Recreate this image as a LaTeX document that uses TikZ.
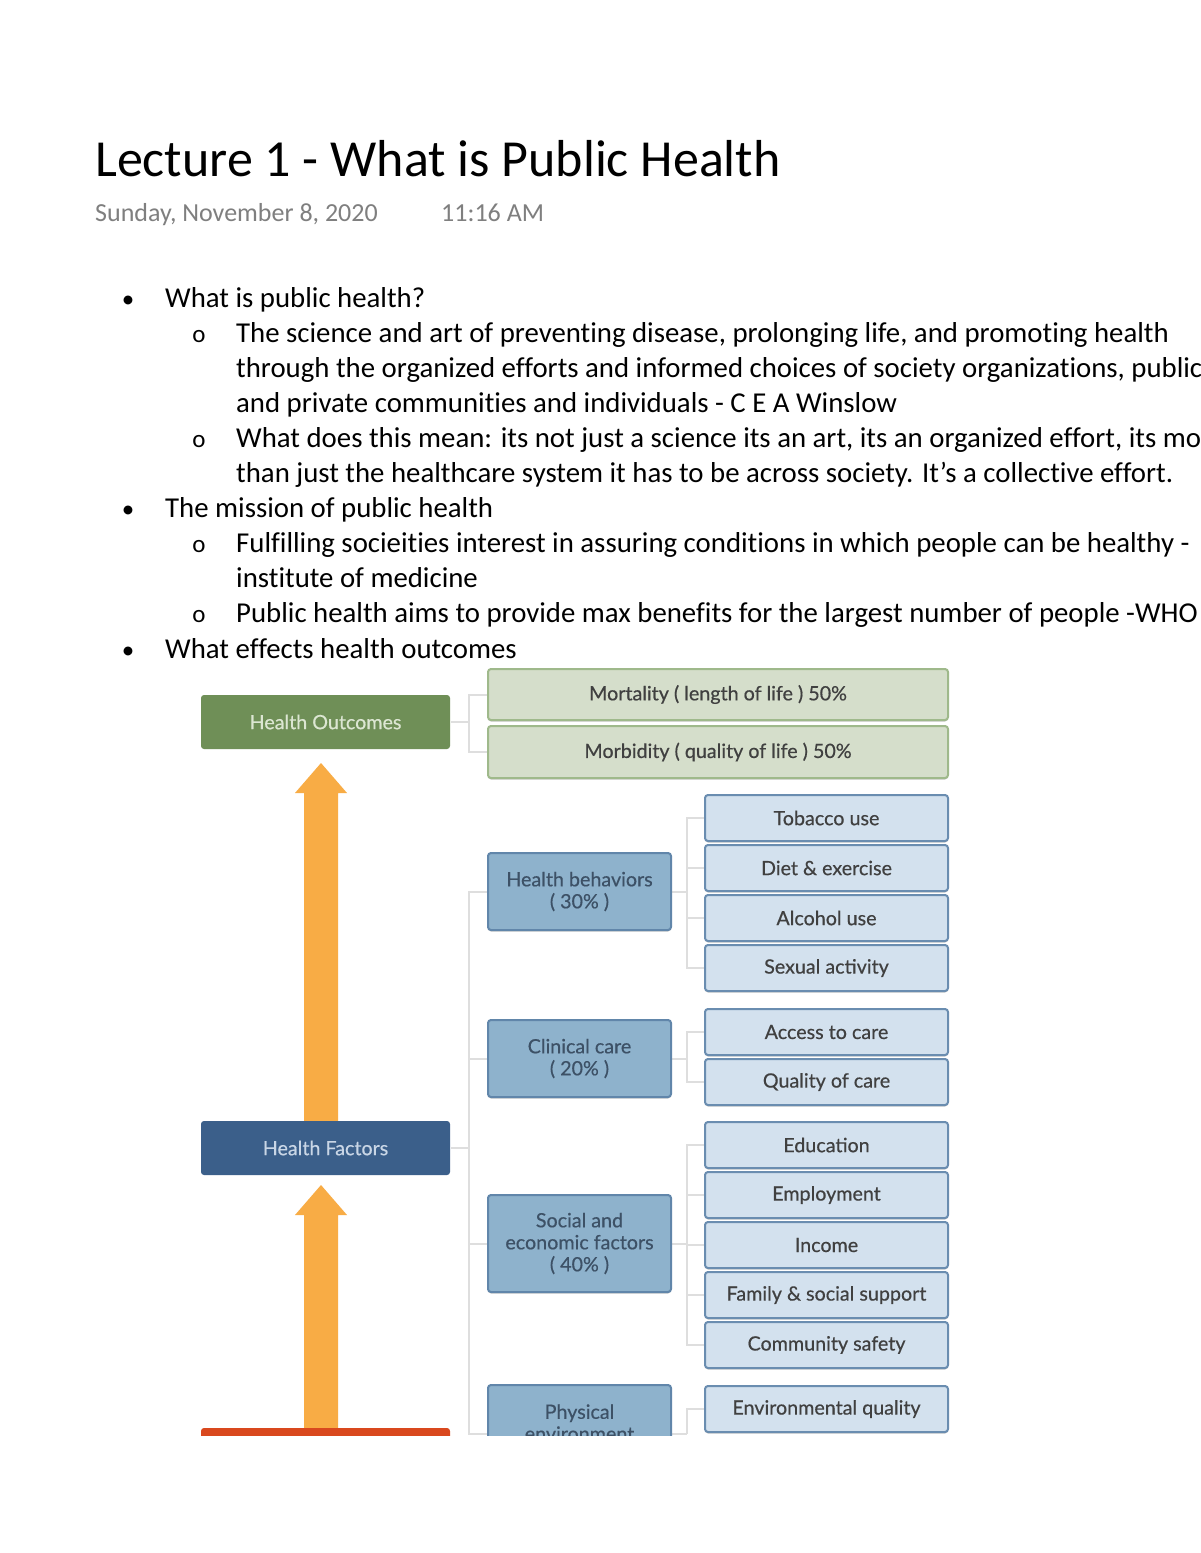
\documentclass[tikz,border=0pt]{standalone}
\usepackage{fontspec}
\setmainfont[Ligatures=NoCommon]{Carlito}
\newfontfamily\lato[FakeBold=0.5]{Lato}
\usetikzlibrary{calc,shadows}
\definecolor{hogreen}{HTML}{6F8F57}
\definecolor{hotext}{HTML}{DCE6D2}
\definecolor{lgfill}{HTML}{D5DECB}
\definecolor{lgdraw}{HTML}{9FB98B}
\definecolor{hfblue}{HTML}{3B5F8A}
\definecolor{hftext}{HTML}{C9D6E6}
\definecolor{catfill}{HTML}{8EB2CC}
\definecolor{catdraw}{HTML}{6186AA}
\definecolor{cattext}{HTML}{3D5166}
\definecolor{subfill}{HTML}{D3E1EE}
\definecolor{subdraw}{HTML}{6A8DB0}
\definecolor{subtext}{HTML}{404040}
\definecolor{arroworange}{HTML}{F8AC45}
\definecolor{boxred}{HTML}{D9481E}
\definecolor{connc}{HTML}{DEDEDE}
\definecolor{dategray}{HTML}{7F7F7F}
\pgfdeclarelayer{bg}
\pgfsetlayers{bg,main}
\tikzset{
  bodytext/.style={anchor=base west, inner sep=0pt, font=\fontsize{28.8}{34}\selectfont},
  bul/.style={anchor=base, inner sep=0pt, font=\fontsize{25}{30}\selectfont},
  anybox/.style={rectangle, rounded corners=3pt, line width=2pt, inner sep=0pt, align=center,
    font=\lato\fontsize{19.7}{22}\selectfont},
  shade/.style={drop shadow={shadow xshift=0pt, shadow yshift=-1.5pt, fill=black, opacity=0.22}},
  mainbox/.style={anybox, minimum width=249pt, minimum height=54pt},
  outbox/.style={anybox, shade, fill=lgfill, draw=lgdraw, text=subtext, minimum width=460pt, minimum height=51pt},
  catbox/.style={anybox, shade, fill=catfill, draw=catdraw, text=cattext, minimum width=183pt},
  subbox/.style={anybox, shade, fill=subfill, draw=subdraw, text=subtext, minimum width=243pt, minimum height=46pt},
  conn/.style={draw=connc, line width=2pt},
  blockarrow/.style={fill=arroworange}
}
\begin{document}
\begin{tikzpicture}[x=1pt,y=-1pt]
\useasboundingbox (0,0) rectangle (1200,1553);
\begin{pgfonlayer}{bg}
\fill[white] (0,0) rectangle (1200,1553);
\end{pgfonlayer}
% header
\node[anchor=base west, inner sep=0pt, font=\fontsize{52}{60}\selectfont] (title) at (95,176) {Lecture 1 - What is Public Health};
\node[anchor=base west, inner sep=0pt, text=dategray, font=\fontsize{26}{30}\selectfont] (date) at (95,221) {Sunday, November 8, 2020};
\node[anchor=base west, inner sep=0pt, text=dategray, font=\fontsize{26}{30}\selectfont] (time) at (441,221) {11:16 AM};
% bullets
\node[bul] (b1) at (128,307) {•};
\node[bodytext] (l1) at (165,307) {What is public health?};
\node[bul] (o1) at (199,342) {o};
\node[bodytext] (l2) at (236,342) {The science and art of preventing disease, prolonging life, and promoting health};
\node[bodytext] (l3) at (236,377) {through the organized efforts and informed choices of society organizations, public};
\node[bodytext] (l4) at (236,412) {and private communities and individuals - C E A Winslow};
\node[bul] (o2) at (199,447) {o};
\node[bodytext] (l5) at (236,447) {What does this mean: its not just a science its an art, its an organized effort, its more};
\node[bodytext] (l6) at (236,482) {than just the healthcare system it has to be across society. It’s a collective effort.};
\node[bul] (b2) at (128,517) {•};
\node[bodytext] (l7) at (165,517) {The mission of public health};
\node[bul] (o3) at (199,552) {o};
\node[bodytext] (l8) at (236,552) {Fulfilling socieities interest in assuring conditions in which people can be healthy -};
\node[bodytext] (l9) at (236,587) {institute of medicine};
\node[bul] (o4) at (199,622) {o};
\node[bodytext] (l10) at (236,622) {Public health aims to provide max benefits for the largest number of people -WHO};
\node[bul] (b3) at (128,658) {•};
\node[bodytext] (l11) at (165,658) {What effects health outcomes};
% diagram main boxes
\node[mainbox, fill=hogreen, text=hotext] (ho) at (325.5,722) {Health Outcomes};
\node[mainbox, fill=hfblue, text=hftext] (hf) at (325.5,1148) {Health Factors};
\node[mainbox, fill=boxred] (dm) at (325.5,1455) {};
\node[outbox] (mort) at (718,694.5) {Mortality ( length of life ) 50\%};
\node[outbox, minimum height=52pt] (morb) at (718,752) {Morbidity ( quality of life ) 50\%};
% categories
\node[catbox, minimum height=77pt] (hb) at (579.5,891.5) {Health behaviors\\( 30\% )};
\node[catbox, minimum height=77pt] (cc) at (579.5,1058.5) {Clinical care\\( 20\% )};
\node[catbox, minimum height=97pt] (se) at (579.5,1243.5) {Social and\\economic factors\\( 40\% )};
\node[catbox, minimum height=97pt] (pe) at (579.5,1433.5) {Physical\\environment\\~};
% sub items
\node[subbox] (tob) at (826.5,818) {Tobacco use};
\node[subbox] (diet) at (826.5,868) {Diet \& exercise};
\node[subbox] (alc) at (826.5,918) {Alcohol use};
\node[subbox] (sex) at (826.5,968) {Sexual activity};
\node[subbox] (acc) at (826.5,1032) {Access to care};
\node[subbox] (qual) at (826.5,1082) {Quality of care};
\node[subbox] (edu) at (826.5,1145) {Education};
\node[subbox] (emp) at (826.5,1195) {Employment};
\node[subbox] (inc) at (826.5,1245) {Income};
\node[subbox] (fam) at (826.5,1295) {Family \& social support};
\node[subbox] (com) at (826.5,1345) {Community safety};
\node[subbox] (env) at (826.5,1409) {Environmental quality};
% connectors and arrows behind
\begin{pgfonlayer}{bg}
  \fill[blockarrow] (304,1125) -- (304,793) -- (295,793) -- (321,763) -- (347,793) -- (338,793) -- (338,1125) -- cycle;
  \fill[blockarrow] (304,1440) -- (304,1215) -- (295,1215) -- (321,1185) -- (347,1215) -- (338,1215) -- (338,1440) -- cycle;
  \draw[conn] (ho.east) -- ++(18,0) coordinate (hoj);
  \draw[conn] (hoj) |- (mort.west);
  \draw[conn] (hoj) |- (morb.west);
  \draw[conn] (hf.east) -- ++(18,0) coordinate (hfj);
  \draw[conn] (hfj) |- (hb.west);
  \draw[conn] (hfj) |- (cc.west);
  \draw[conn] (hfj) |- (se.west);
  \draw[conn] (hfj) |- (pe.west);
  \draw[conn] (hb.east) -- ++(15,0) coordinate (hbj);
  \draw[conn] (hbj) |- (tob.west);
  \draw[conn] (hbj) |- (diet.west);
  \draw[conn] (hbj) |- (alc.west);
  \draw[conn] (hbj) |- (sex.west);
  \draw[conn] (cc.east) -- ++(15,0) coordinate (ccj);
  \draw[conn] (ccj) |- (acc.west);
  \draw[conn] (ccj) |- (qual.west);
  \draw[conn] (se.east) -- ++(15,0) coordinate (sej);
  \draw[conn] (sej) |- (edu.west);
  \draw[conn] (sej) |- (emp.west);
  \draw[conn] (sej) |- (inc.west);
  \draw[conn] (sej) |- (fam.west);
  \draw[conn] (sej) |- (com.west);
  \draw[conn] (pe.east) -- ++(15,0) coordinate (pej);
  \draw[conn] (pej) |- (env.west);
\end{pgfonlayer}
% cut-off of the screenshot
\fill[white] (0,1436) rectangle (1200,1553);
\end{tikzpicture}
\end{document}
